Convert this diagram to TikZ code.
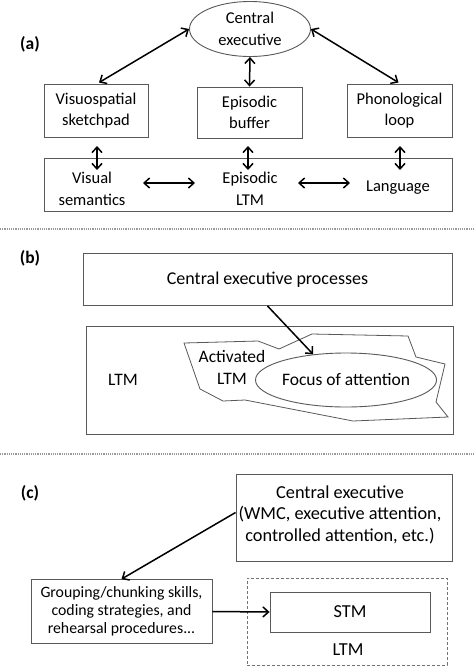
\documentclass[tikz,border=0pt]{standalone}
\usepackage{fontspec}
\setmainfont{Carlito}
\usetikzlibrary{arrows.meta,shapes.geometric,calc}
\begin{document}
\begin{tikzpicture}[x=1pt,y=-1pt,
  every node/.style={font=\fontsize{17.5}{21.5}\selectfont, inner sep=0pt, align=center},
  fa/.style={font=\fontsize{16.5}{21.5}\selectfont},
  fc/.style={font=\fontsize{18.3}{21.5}\selectfont},
  fg/.style={font=\fontsize{15.8}{18.2}\selectfont},
  boxst/.style={draw=black!65, line width=0.9pt, rectangle},
  ellst/.style={draw=black!65, line width=0.9pt, ellipse},
  arr/.style={line width=1.5pt, {Straight Barb[length=5.5pt,width=10pt]}-{Straight Barb[length=5.5pt,width=10pt]}},
  arr1/.style={line width=1.5pt, -{Straight Barb[length=5.5pt,width=10pt]}},
  sep/.style={draw=black!40, line width=1.2pt, densely dotted},
  lab/.style={font=\fontsize{17.5}{21}\selectfont\bfseries}]
\useasboundingbox (0,0) rectangle (474,667);
\fill[white] (0,0) rectangle (474,667);

% ---------- (a)
\node[lab] (la) at (30,44) {(a)};
\node[ellst, fa, minimum width=121pt, minimum height=55pt] (ce) at (250,29) {Central\\executive};
\node[boxst, fa, minimum width=104pt, minimum height=53pt] (vs) at (96,110.5) {Visuospatial\\sketchpad};
\node[boxst, fa, minimum width=105pt, minimum height=51pt] (eb) at (249.5,112.5) {Episodic\\buffer};
\node[boxst, fa, minimum width=105pt, minimum height=53pt] (pl) at (399.5,110.5) {Phonological\\loop};
\node[boxst, minimum width=408pt, minimum height=53pt] (ltmbox) at (248,184.5) {};
\node[fa] (vsem) at (92,189) {Visual\\semantics};
\node[fa] (eltm) at (250,189) {Episodic\\LTM};
\node[fa] (lang) at (398,188) {Language};

\draw[arr] (ce.west) -- ($(vs.north)+(3,-1)$);
\draw[arr] (ce.east) -- ($(pl.north)+(-1,-1)$);
\draw[arr] (ce.south) -- (eb.north);
\coordinate (a1) at (97,146); \coordinate (a2) at (97,170);
\coordinate (b1) at (248,146); \coordinate (b2) at (248,170);
\coordinate (c1) at (400,146); \coordinate (c2) at (400,170);
\draw[arr] (a1) -- (a2);
\draw[arr] (b1) -- (b2);
\draw[arr] (c1) -- (c2);
\coordinate (h1) at (143,183); \coordinate (h2) at (195,183);
\coordinate (h3) at (298,183); \coordinate (h4) at (350,183);
\draw[arr] (h1) -- (h2);
\draw[arr] (h3) -- (h4);

\draw[sep] (0,229) -- (474,229);

% ---------- (b)
\node[lab] (lb) at (30,258) {(b)};
\node[boxst, font=\fontsize{18}{21.5}\selectfont, minimum width=369pt, minimum height=52pt] (cep) at (267.5,279.5) {Central executive processes};
\node[boxst, minimum width=367pt, minimum height=108pt] (ltmb) at (269.5,380) {};
\node (ltmt) at (123,380) {LTM};
\draw[draw=black!65, line width=0.8pt, fill=white] (184,343) -- (258,341) -- (279,349) -- (312,334) -- (408,336) -- (416,357) -- (445,364) -- (436,402) -- (448,417) -- (353,421) -- (245,400) -- (223,401) -- (200,389) -- cycle;
\node (act) at (232,367.5) {Activated\\LTM};
\node[ellst, minimum width=168pt, minimum height=54pt] (foa) at (346,380) {Focus of attention};
\draw[arr1] (cep.south) -- (foa.142);

\draw[sep] (0,454) -- (474,454);

% ---------- (c)
\node[lab] (lc) at (30,493) {(c)};
\node[boxst, minimum width=216pt, minimum height=87pt] (ce2) at (344,517.5) {};
\node[fc] (ce2t) at (340,514.5) {Central executive\\(WMC, executive attention,\\controlled attention, etc.)};
\node[boxst, fg, minimum width=181pt, minimum height=64pt] (grp) at (121.5,611.5) {Grouping/chunking skills,\\coding strategies, and\\rehearsal procedures...};
\node[draw=black!55, line width=0.9pt, densely dashed, minimum width=200pt, minimum height=87pt] (dash) at (347,621.5) {};
\node[boxst, fc, minimum width=160pt, minimum height=40pt] (stm) at (350,612) {STM};
\node[fc] (ltmc) at (348,650) {LTM};
\draw[arr1] ($(ce2.west)+(0,-5)$) -- (grp.north);
\draw[arr1] (grp.east) -- (stm.west);
\end{tikzpicture}
\end{document}
